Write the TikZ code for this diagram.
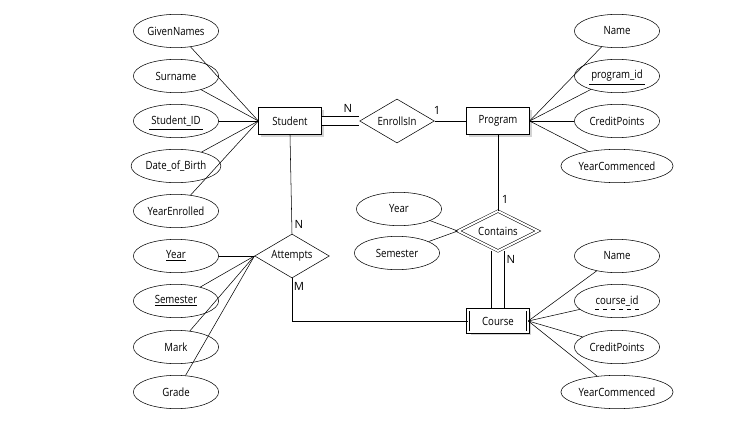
\documentclass[tikz,border=0pt]{standalone}
\usepackage{fontspec}
\setmainfont{Open Sans}
\usetikzlibrary{shapes.geometric,shadows,calc}
\begin{document}
\begin{tikzpicture}[x=0.75pt,y=-0.75pt,
 every node/.style={font=\fontsize{8.5}{9}\selectfont\addfontfeature{FakeStretch=0.85}},
 attr/.style={draw,ellipse,minimum width=64pt,minimum height=25pt,inner sep=1pt,fill=white},
 wattr/.style={attr,minimum width=70pt},
 ent/.style={draw,rectangle,minimum width=47pt,minimum height=20pt,fill=white,drop shadow={opacity=0.35,shadow xshift=2pt,shadow yshift=-2pt}},
 rel/.style={draw,diamond,aspect=1.8,minimum width=56pt,minimum height=33pt,inner sep=0pt,fill=white},
 lab/.style={font=\fontsize{8.5}{9}\selectfont}]
\useasboundingbox (0,0) rectangle (750,428);
\node[attr] (gn) at (176,31) {GivenNames};
\node[attr] (sn) at (176,76) {Surname};
\node[attr] (sid) at (176,121) {Student\_ID};
\draw ($(sid.center)+(-27,8)$) -- ($(sid.center)+(27,8)$);
\node[attr] (dob) at (176,166) {Date\_of\_Birth};
\node[attr] (ye) at (176,211) {YearEnrolled};
\node[ent] (st) at (290,121) {Student};
\node[rel] (en) at (397,121) {EnrollsIn};
\node[ent] (pr) at (498,121) {Program};
\node[attr] (pn) at (617,31) {Name};
\node[attr] (pid) at (617,76) {program\_id};
\draw ($(pid.center)+(-28,8)$) -- ($(pid.center)+(28,8)$);
\node[attr] (pcp) at (617,121) {CreditPoints};
\node[wattr] (pyc) at (617,166) {YearCommenced};
\node[attr] (cy) at (399,209) {Year};
\node[attr] (cs) at (397,253) {Semester};
\node[rel,double,double distance=1.5pt,minimum height=30pt,minimum width=60pt] (co) at (498,231) {Contains};
\node[rel] (at) at (292,256) {Attempts};
\node[attr] (ay) at (176,256) {\underline{Year}};
\node[attr] (as) at (176,301) {\underline{Semester}};
\node[attr] (am) at (176,347) {Mark};
\node[attr] (ag) at (176,392) {Grade};
\node[ent,double,double distance=1.5pt,minimum width=45pt,minimum height=17pt] (cu) at (498,321) {Course};
\node[attr] (cn) at (617,256) {Name};
\node[attr] (cid) at (617,301) {course\_id};
\draw[dashed] ($(cid.center)+(-22,8)$) -- ($(cid.center)+(22,8)$);
\node[attr] (ccp) at (617,347) {CreditPoints};
\node[wattr] (cyc) at (617,392) {YearCommenced};
\foreach \a in {gn,sn,sid,dob,ye} \draw (\a) -- (st.west);
\foreach \a in {pn,pid,pcp,pyc} \draw (\a) -- (pr.east);
\foreach \a in {cn,cid,ccp,cyc} \draw (\a) -- (cu.east);
\foreach \a in {ay,as,am,ag} \draw (\a) -- (at.west);
\foreach \a in {cy,cs} \draw (\a) -- (co.west);
\draw[double,double distance=6pt] (st.east) -- (en.west);
\draw (en.east) -- (pr.west);
\draw (pr.south) -- (co.north);
\draw ([xshift=-5pt]co.south) -- ([xshift=-5pt]cu.north);
\draw ([xshift=5pt]co.south) -- ([xshift=5pt]cu.north);
\draw (st.south) -- (at.north);
\draw (at.south) |- (cu.west);
\node[lab] at (348,108) {N};
\node[lab] at (437,110) {1};
\node[lab] at (505,199) {1};
\node[lab] at (511,259) {N};
\node[lab] at (299,224) {N};
\node[lab] at (299,286) {M};
\end{tikzpicture}
\end{document}
